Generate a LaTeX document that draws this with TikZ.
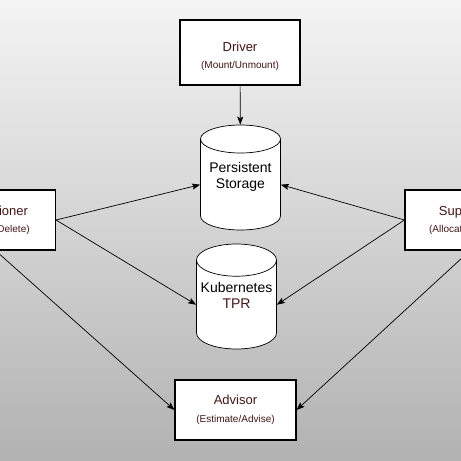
\documentclass[tikz,border=0pt]{standalone}
\usepackage{fontspec}
\setmainfont{Liberation Sans}
\usetikzlibrary{shapes.geometric,arrows.meta}
\definecolor{labelred}{RGB}{66,22,22}
\definecolor{bgtop}{RGB}{244,244,244}
\definecolor{bgbottom}{RGB}{178,178,178}
\tikzset{
	box/.style={draw,line width=1.1pt,fill=white,minimum width=120pt,minimum height=60pt,align=center,text=labelred,inner sep=0pt},
	boxtext/.style={align=center,text=labelred,inner sep=0pt},
	store/.style={draw,line width=0.7pt,fill=white,cylinder,shape border rotate=90,aspect=0.45,minimum width=80pt,minimum height=105pt,align=center,inner sep=0pt,text depth=19pt,anchor=shape center,font=\fontsize{14}{16}\selectfont},
	link/.style={->,line width=0.7pt},
	>={Stealth[length=8pt,width=6pt,inset=1.5pt]}
}
\newcommand{\boxtitle}[1]{{\fontsize{13}{15}\selectfont #1}}
\newcommand{\boxsub}[1]{{\fontsize{10}{12}\selectfont #1}}
\begin{document}
\begin{tikzpicture}[x=1pt,y=-1pt]
	\useasboundingbox (0,0) rectangle (461,461);
	\clip (0,0) rectangle (461,461);
	\shade[top color=bgtop,bottom color=bgbottom] (0,0) rectangle (461,461);
	\node[box,minimum height=65pt] (driver) at (240,52.5) {};
	\node[boxtext] (driverlabel) at (240,56.5) {\boxtitle{Driver}\\[5pt]\boxsub{(Mount/Unmount)}};
	\node[box] (prov) at (-4.5,220) {\boxtitle{Provisioner}\\[5pt]\boxsub{(Create/Delete)}};
	\node[box,minimum width=130pt] (superv) at (470,220) {\boxtitle{Supervisor}\\[5pt]\boxsub{(Allocate/Release)}};
	\node[box,minimum width=121pt] (advisor) at (235.5,410) {\boxtitle{Advisor}\\[6pt]\boxsub{(Estimate/Advise)}};
	\node[store] (storage) at (240.5,177.5) {Persistent\\Storage};
	\node[store] (tpr) at (236.5,296.5) {Kubernetes\\\textcolor{labelred}{TPR}};
	\draw[link] (driver) -- (storage);
	\draw[link] (prov.east) -- (storage.west);
	\draw[link] (prov.east) -- (tpr.west);
	\draw[link] (superv.west) -- (storage.east);
	\draw[link] (superv.west) -- (tpr.east);
	\draw[link] (prov.south) -- (advisor.west);
	\draw[link] (superv.south) -- (advisor.east);
\end{tikzpicture}
\end{document}
